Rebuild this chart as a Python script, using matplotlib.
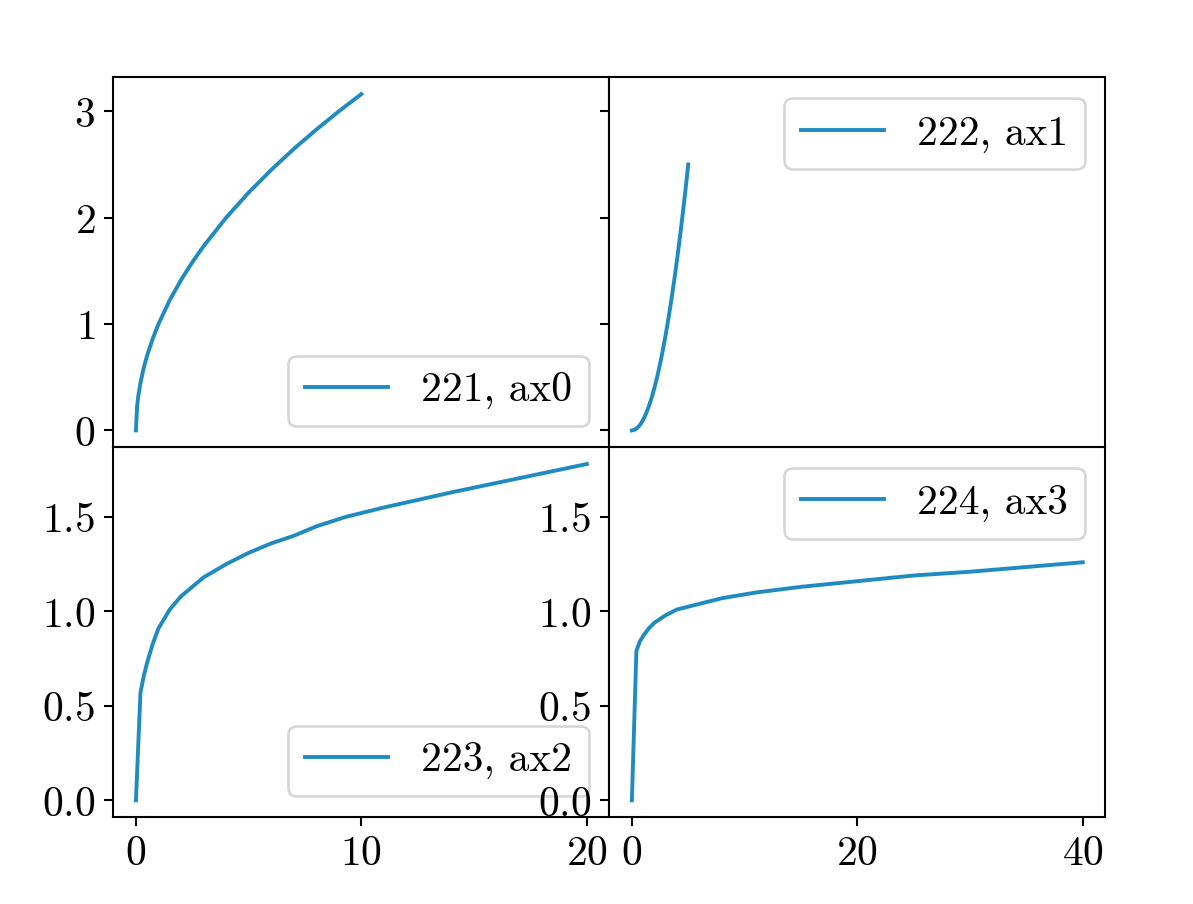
import matplotlib
matplotlib.use("Agg")
import matplotlib.pyplot as plt

plt.rcParams['font.family'] = ['cmr10', 'DejaVu Serif']
plt.rcParams['axes.formatter.use_mathtext'] = True
plt.rcParams['font.size'] = 16

x0 = [0, 0.05, 0.1, 0.2, 0.35, 0.5, 0.75, 1, 1.5, 2, 2.5, 3, 4, 5, 6, 7, 8, 9, 10]
y0 = [0, 0.224, 0.316, 0.447, 0.592, 0.707, 0.866, 1.0, 1.225, 1.414, 1.581, 1.732, 2.0, 2.236, 2.449, 2.646, 2.828, 3.0, 3.162]
x1 = [0, 0.25, 0.5, 0.75, 1, 1.25, 1.5, 1.75, 2, 2.25, 2.5, 2.75, 3, 3.25, 3.5, 3.75, 4, 4.25, 4.5, 4.75, 5]
y1 = [0, 0.006, 0.025, 0.056, 0.1, 0.156, 0.225, 0.306, 0.4, 0.506, 0.625, 0.756, 0.9, 1.056, 1.225, 1.406, 1.6, 1.806, 2.025, 2.256, 2.5]
x2 = [0, 0.2, 0.35, 0.5, 0.75, 1, 1.5, 2, 2.5, 3, 4, 5, 6, 7, 8, 9.3, 11, 12.5, 14, 16, 18, 20]
y2 = [0, 0.57, 0.66, 0.73, 0.83, 0.91, 1.01, 1.08, 1.13, 1.18, 1.25, 1.31, 1.36, 1.40, 1.45, 1.50, 1.55, 1.59, 1.63, 1.68, 1.73, 1.78]
x3 = [0, 0.4, 0.7, 1, 1.5, 2, 3, 4, 6, 8, 11, 15, 20, 25, 30, 35, 40]
y3 = [0, 0.79, 0.84, 0.87, 0.91, 0.94, 0.98, 1.01, 1.04, 1.07, 1.10, 1.13, 1.16, 1.19, 1.21, 1.235, 1.26]
labels = ['221, ax0', '222, ax1', '223, ax2', '224, ax3']

color = '#1f8bc0'
fig = plt.figure(figsize=(6.4, 4.85), dpi=186.5)
gs = fig.add_gridspec(2, 2, hspace=0, wspace=0, left=0.095, right=0.926, top=0.914, bottom=0.096)
ax2 = fig.add_subplot(gs[1, 0])
ax3 = fig.add_subplot(gs[1, 1], sharey=ax2)
ax0 = fig.add_subplot(gs[0, 0], sharex=ax2)
ax1 = fig.add_subplot(gs[0, 1], sharey=ax0, sharex=ax3)

ax0.plot(x0, y0, color=color, label=labels[0])
ax1.plot(x1, y1, color=color, label=labels[1])
ax2.plot(x2, y2, color=color, label=labels[2])
ax3.plot(x3, y3, color=color, label=labels[3])

ax0.legend(loc='lower right')
ax1.legend(loc='upper right')
ax2.legend(loc='lower right')
ax3.legend(loc='upper right')

ax0.tick_params(labelbottom=False, bottom=False)
ax1.tick_params(labelbottom=False, bottom=False, labelleft=False)
ax3.tick_params(labelleft=True)
ax2.set_yticks([0, 0.5, 1.0, 1.5])
ax0.set_yticks([0, 1, 2, 3])
ax2.set_xticks([0, 10, 20])
ax3.set_xticks([0, 20, 40])

fig.savefig('out.png', dpi=186.5)
